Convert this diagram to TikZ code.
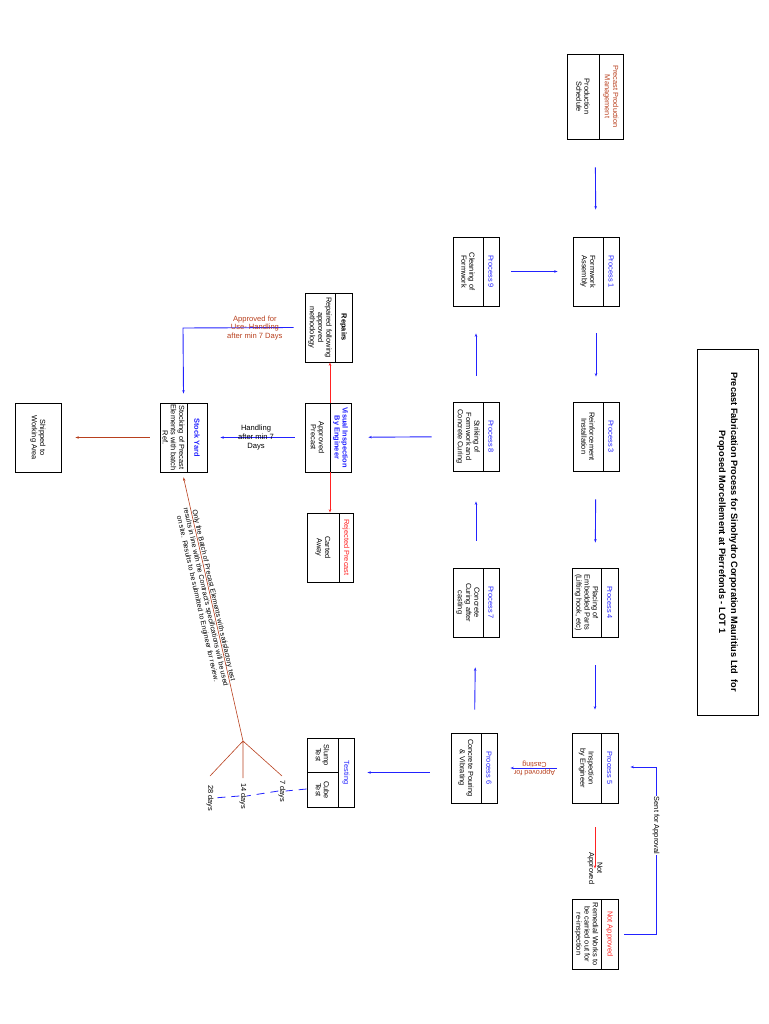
\documentclass[tikz,border=0pt]{standalone}
\usepackage{fontspec}
\setmainfont{Liberation Sans}
\usetikzlibrary{arrows.meta}
\definecolor{brn}{HTML}{B8401E}
\definecolor{rd}{HTML}{FF2222}
\definecolor{bl}{HTML}{2222FF}
\tikzset{
 box/.style={draw,line width=0.8pt},
 txt/.style={rotate=-90,align=center,font=\fontsize{7.4}{8.2}\selectfont,inner sep=0pt,text=black},
 hd/.style={txt},
 arr/.style={color=bl,line width=0.9pt,-{Stealth[length=3.5pt,width=2.5pt]}},
 rarr/.style={arr,color=rd},
 barr/.style={arr,color=brn},
}
\newcommand\pbox[9]{%
 \node[box,minimum width={(#4-#2)*1pt},minimum height={(#5-#3)*1pt},inner sep=0pt] (#1) at ({(#2+#4)/2},{-(#3+#5)/2}) {};
 \draw[line width=0.8pt] (#6,-#3) -- (#6,-#5);
 \node[hd,text=#7] (#1h) at ({(#6+#4)/2},{-(#3+#5)/2}) {#8};
 \node[txt] (#1b) at ({(#2+#6)/2},{-(#3+#5)/2}) {#9};}
\begin{document}
\begin{tikzpicture}[x=1pt,y=1pt]
\useasboundingbox (0,0) rectangle (768,-1024);
\pbox{pm}{567}{54}{623}{139}{599}{brn}{Precast Production\\Management}{Production\\Schedule}
\pbox{p1}{573}{237}{619}{306}{603}{bl}{Process 1}{Formwork\\Assembly}
\pbox{p9}{453}{237}{499}{306}{483}{bl}{Process 9}{Cleaning of\\Formwork}
\pbox{p3}{573}{402}{619}{471}{603}{bl}{Process 3}{Reinforcement\\Installation}
\pbox{p8}{453}{402}{499}{471}{483}{bl}{Process 8}{Striking of\\Formwork and\\Concrete Curing}
\pbox{p4}{572}{568}{618}{637}{601}{bl}{Process 4}{Placing of\\Embedded Parts\\(Lifting hook, etc)}
\pbox{p7}{453}{568}{499}{637}{483}{bl}{Process 7}{Concrete\\Curing after\\casting}
\pbox{p5}{572}{733}{618}{803}{601}{bl}{Process 5}{Inspection\\by Engineer}
\pbox{p6}{451}{733}{497}{803}{481}{bl}{Process 6}{Concrete Pouring\\\& Vibrating}
\pbox{na}{572}{899}{618}{969}{601}{rd}{Not Approved}{Remedial Works to\\be carried out for\\re-inspection}
\pbox{vi}{305}{403}{351}{472}{330}{bl}{\bfseries Visual Inspection\\\bfseries By Engineer}{Approved\\Precast}
\pbox{rp}{305}{293}{352}{362}{335}{black}{\bfseries Repairs}{Repaired following\\approved\\methodology}
\pbox{rj}{307}{513}{353}{582}{339}{rd}{Rejected Precast}{Carted\\Away}
\pbox{sy}{160}{403}{207}{472}{187}{bl}{\bfseries Stock Yard}{Stocking of Precast\\Elements with batch\\Ref.}
\node[box,minimum width=46pt,minimum height=69pt] (sh) at (38,-437.5) {};
\node[txt] (shb) at (38,-437.5) {Shipped to\\Working Area};
\node[box,minimum width=47pt,minimum height=69pt] (ts) at (330.5,-772.5) {};
\draw[line width=0.8pt] (338,-738) -- (338,-807);
\draw[line width=0.8pt] (307,-772) -- (338,-772);
\node[hd,text=bl] (tsh) at (346,-772.5) {Testing};
\node[txt] (ts1) at (322.5,-755) {Slump\\Test};
\node[txt] (ts2) at (322.5,-790) {Cube\\Test};
\node[box,minimum width=61pt,minimum height=366pt] (tt) at (727.5,-532) {};
\node[rotate=-90,align=center,font=\bfseries\fontsize{9.2}{12}\selectfont] (ttt) at (727.5,-532) {Precast Fabrication Process for Sinohydro Corporation Mauritius Ltd\ \ for\\Proposed Morcellement at Pierrefonds - LOT 1};
\draw[arr,shorten <=28pt,shorten >=27pt] (pm) -- (p1);
\draw[arr,shorten <=27pt,shorten >=25pt] (p1) -- (p3);
\draw[arr,shorten <=28pt,shorten >=25pt] (p3) -- (p4);
\draw[arr,shorten <=28pt,shorten >=23pt] (p4) -- (p5);
\draw[arr,shorten <=12pt,shorten >=15pt] (p9) -- (p1);
\draw[arr,shorten <=26pt,shorten >=27pt] (p8) -- (p9);
\draw[arr,shorten <=27pt,shorten >=30pt] (p7) -- (p8);
\draw[arr,shorten <=23pt,shorten >=30pt] (p6) -- (p7);
\draw[arr,shorten <=15pt,shorten >=13pt] (p5) -- node[rotate=180,font=\fontsize{7.2}{8}\selectfont,text=brn,align=center,inner sep=1pt] (lac) {Approved for\\Casting} (p6);
\draw[rarr,shorten <=24pt,shorten >=30pt] (p5) -- node[txt,right=1pt,inner sep=0pt] (lna) {Not\\Approved} (na);
\coordinate (sa1) at (656,-934);
\coordinate (sa2) at (656,-767);
\draw[arr,shorten <=6pt] (na.east |- sa1) -- (sa1) -- node[txt,pos=0.65,fill=white,inner sep=1pt] (lsa) {Sent for Approval} (sa2) -- ([xshift=12pt]p5.east |- sa2);
\draw[arr,shorten <=21pt,shorten >=13pt] (p6.west |- ts) -- (ts);
\draw[arr,shorten <=21pt,shorten >=17pt] (p8) -- (vi);
\draw[arr,shorten <=10pt,shorten >=13pt] (vi) -- node[align=center,font=\fontsize{7.6}{8.6}\selectfont,inner sep=1pt,text=black] (lh) {Handling\\after min 7\\Days} (sy);
\draw[rarr] (vi.north -| 330,0) -- (rp.south -| 330,0);
\draw[rarr] (vi.south -| 330,0) -- (rj.north -| 330,0);
\coordinate (rc) at (183,-328);
\draw[arr] ([xshift=-11pt]rp.west) -- node[pos=0.35,font=\fontsize{7.6}{8.6}\selectfont,text=brn,align=center,inner sep=0pt] (lap) {Approved for\\Use- Handling\\after min 7 Days} (rc) -- ([yshift=9pt]sy.north);
\draw[barr,shorten <=10pt,shorten >=14pt] (sy) -- (sh);
\coordinate (fan) at (243,-741);
\coordinate (d7) at (282,-776);
\coordinate (d14) at (243,-778);
\coordinate (d28) at (210,-776);
\draw[brn,line width=0.6pt] (fan) -- (d7) (fan) -- (d14) (fan) -- (d28);
\node[txt] (t7) at (282,-791) {7 days};
\node[txt] (t14) at (243,-796) {14 days};
\node[txt] (t28) at (210,-798) {28 days};
\draw[bl,dashed,dash pattern=on 8pt off 6pt,line width=0.8pt] (ts.west |- 0,-789) -- (t7.north) (t7.south) -- (t14.north) (t14.south) -- (t28.north);
\draw[barr,line width=0.6pt] (fan) -- node[sloped,pos=0.55,align=center,font=\fontsize{7}{8.2}\selectfont,inner sep=0pt,yshift=-5pt,text=black] (note) {Only the Batch of Precast Elements with satisfactory test\\results in line with the Contract's specifications will be used\\on site. Results to be submitted to Engineer for review.} ([yshift=-5pt]sy.south);
\end{tikzpicture}
\end{document}
